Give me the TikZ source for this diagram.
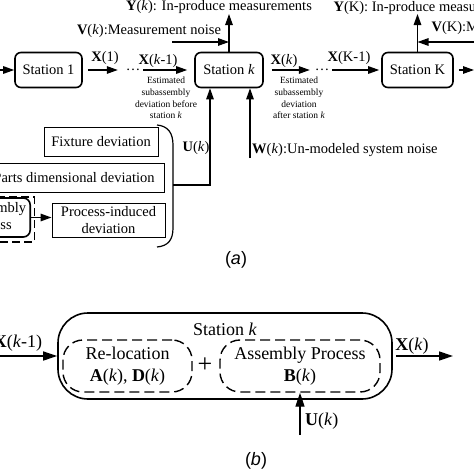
\documentclass[tikz,border=0pt]{standalone}
\usepackage{fontspec}
\setmainfont{Liberation Serif}
\newfontfamily\labfont{Liberation Sans}
\usetikzlibrary{arrows.meta}
\begin{document}
\begin{tikzpicture}[x=1pt,y=-1pt,
  tf/.style={font=\fontsize{14.5}{17}\selectfont},
  sf/.style={font=\fontsize{9.5}{11.7}\selectfont, align=center, inner sep=0},
  bf/.style={font=\fontsize{18}{22}\selectfont},
  lbl/.style={inner sep=0},
  station/.style={tf, draw, line width=1.6pt, rounded corners=6pt, minimum height=35pt, inner sep=0},
  dbox/.style={draw, line width=0.9pt},
  arr/.style={line width=1.3pt, -{Triangle[length=11pt,width=7.5pt]}},
  arrb/.style={line width=1.4pt, -{Triangle[length=14pt,width=9pt]}},
  dashbox/.style={draw, line width=1.4pt, dash pattern=on 10pt off 5pt, rounded corners=20pt, bf, align=center, inner sep=0, minimum height=52pt},
  dots/.style={tf, inner sep=0, minimum width=20pt},
  figcap/.style={font={\labfont\fontsize{18}{20}\selectfont}, inner sep=0}
]
\clip (0,0) rectangle (474,474);
\fill[white] (0,0) rectangle (474,474);

% ---------- (a) ----------
\node[station, minimum width=67pt] (s1) at (48.5,70) {Station 1};
\node[station, minimum width=68pt] (sk) at (229,70) {Station \textit{k}};
\node[station, minimum width=71pt] (sK) at (417.5,70) {Station K};
\node[dots] (d1) at (133,70) {\dots};
\node[dots] (d2) at (322,70) {\dots};

\coordinate (in1) at (0,70);
\coordinate (outK) at (474,70);
\draw[arr] (in1) -- (s1);
\draw[arr, shorten <=5pt, shorten >=5pt] (s1) -- (d1);
\draw[arr, shorten >=7pt] (d1) -- (sk);
\draw[arr, shorten <=8pt, shorten >=2pt] (sk) -- (d2);
\draw[arr, shorten >=2pt] (d2) -- (sK);
\draw[arr, shorten <=5pt] (sK) -- (outK);

\node[tf, lbl] (lx1) at (105,58) {\textbf{X}(1)};
\node[tf, lbl] (lxk1) at (158,61) {\textbf{X}(\textit{k}-1)};
\node[tf, lbl] (lxk) at (284,61) {\textbf{X}(\textit{k})};
\node[tf, lbl] (lxK1) at (349,58) {\textbf{X}(K-1)};

\node[sf, anchor=north] (est1) at (166,77) {Estimated\\subassembly\\deviation before\\station \textit{k}};
\node[sf, anchor=north] (est2) at (299,77) {Estimated\\subassembly\\deviation\\after station \textit{k}};

\coordinate (ykt) at (229,14);
\draw[arr] (sk.north) -- (ykt);
\node[tf, anchor=base] (lyk) at (219,10) {\textbf{Y}(\textit{k}): In-produce measurements};
\coordinate (vks) at (172,42);
\coordinate (vke) at (229,42);
\draw[arr] (vks) -- (vke);
\node[tf, anchor=base] (lvk) at (149,34) {\textbf{V}(\textit{k}):Measurement noise};

\coordinate (yKt) at (417.5,14);
\draw[arr] (sK.north) -- (yKt);
\node[tf, anchor=base west] (lyK) at (330,11) {\textbf{Y}(K): In-produce measurements};
\coordinate (vKs) at (474,42);
\coordinate (vKe) at (417.5,42);
\draw[arr] (vKs) -- (vKe);
\node[tf, anchor=base west] (lvK) at (428,31) {\textbf{V}(K):Measurement noise};

\coordinate (brk) at (173,185);
\coordinate (ukx) at (210,185);
\draw[arr] (brk) -- (ukx) -- (ukx |- sk.south);
\node[tf, lbl] (luk) at (196,148) {\textbf{U}(\textit{k})};

\coordinate (wkb) at (250,158);
\draw[arr] (wkb) -- (wkb |- sk.south);
\node[tf, lbl, anchor=west] (lwk) at (252,150) {\textbf{W}(\textit{k}):Un-modeled system noise};

\draw[line width=1.2pt] (157,125) .. controls (168,126) and (173,133) .. (173,145) -- (173,228) .. controls (173,240) and (168,246) .. (157,247);

\node[dbox, tf, minimum width=114pt, minimum height=29pt, inner sep=0] (fix) at (101,141.5) {Fixture deviation};
\node[dbox, tf, anchor=east, minimum height=29pt, inner xsep=10pt, inner ysep=0] (parts) at (165,177.5) {Parts dimensional deviation};
\node[dbox, tf, minimum width=113pt, minimum height=34pt, align=center, inner sep=0] (proc) at (108.5,220) {Process-induced\\deviation};

\node[draw, line width=1.2pt, dash pattern=on 8pt off 4pt, anchor=east, minimum width=70pt, minimum height=45pt] (dsh) at (35,219.5) {};
\node[draw, line width=1.6pt, rounded corners=7pt, anchor=east, tf, align=left, inner xsep=4pt, inner ysep=0, minimum height=39pt] (asm0) at (31,217.5) {Assembly\\process};
\draw[arr] (asm0.east) -- (asm0.east -| proc.west);

\node[figcap] (la) at (236,260) {(\textit{a})};

% ---------- (b) ----------
\node[draw, line width=1.6pt, rounded corners=30pt, minimum width=334pt, minimum height=86pt] (stb) at (225,356) {};
\node[bf, lbl] (lst) at (225,329) {Station \textit{k}};
\node[dashbox, minimum width=129pt] (rel) at (127.5,366) {Re-location\\\textbf{A}(\textit{k}), \textbf{D}(\textit{k})};
\node[lbl, font=\fontsize{26}{28}\selectfont] (plus) at (205,365) {+};
\node[dashbox, minimum width=160pt] (asp) at (300,366) {Assembly Process\\\textbf{B}(\textit{k})};

\coordinate (bin) at (0,356);
\draw[arrb] (bin) -- (stb.west);
\node[bf, lbl] (lbin) at (18,343) {\textbf{X}(\textit{k}-1)};
\coordinate (bout) at (453,356);
\draw[arrb, shorten <=3pt] (stb.east) -- (bout);
\node[bf, lbl] (lbout) at (412,346) {\textbf{X}(\textit{k})};
\coordinate (bu) at (300,435);
\draw[arrb] (bu) -- (asp.south);
\node[bf, lbl, anchor=west] (lbu) at (305,421) {\textbf{U}(\textit{k})};

\node[figcap] (lb) at (256,461) {(\textit{b})};
\end{tikzpicture}
\end{document}
